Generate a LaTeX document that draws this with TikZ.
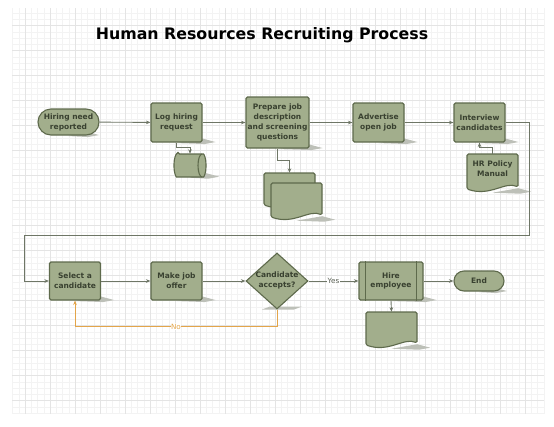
\documentclass[tikz,border=0pt]{standalone}
\usepackage{fontspec}
\setmainfont{DejaVu Sans}
\usetikzlibrary{shapes.geometric,shapes.misc,arrows.meta,calc}
\definecolor{fillc}{HTML}{A2AE8C}
\definecolor{bord}{HTML}{5E6A4C}
\definecolor{txtc}{HTML}{394130}
\definecolor{linec}{HTML}{6E7666}
\definecolor{noc}{HTML}{E3A54A}
\definecolor{shadc}{HTML}{BDC0B8}
\definecolor{gminor}{HTML}{F3F3F3}
\definecolor{gmajor}{HTML}{E4E4E4}
\pgfdeclarelayer{gridlayer}
\pgfdeclarelayer{shadlayer}
\pgfsetlayers{gridlayer,shadlayer,main}
\newcommand{\wdoc}[5]{%
  \pgfmathsetmacro\wdw{#4-#2}%
  \pgfmathsetmacro\wdh{#5-#3}%
  \filldraw[docsty] (#2,#5-3) -- (#2,#3) -- (#4,#3) -- (#4,#5-5)
     .. controls ({#4-0.25*\wdw},#5-11) and ({#2+0.45*\wdw},#5+5) .. (#2,#5-3) -- cycle;
  \node[inner sep=0pt, minimum width=\wdw pt, minimum height=\wdh pt] (#1) at ({(#2+#4)/2},{(#3+#5)/2}) {};
}
\newcommand{\shd}[1]{%
  \fill[shadc] ($(#1.south)+(0,0.5)$) -- ($(#1.south east)+(2,1.5)$) -- ($(#1.south east)+(13,-0.5)$) -- ($(#1.south east)+(0,-4)$) -- cycle;
}
\begin{document}
\begin{tikzpicture}[x=1pt,y=-1pt,
  lbl/.style={font=\fontsize{7.5}{9.9}\selectfont\bfseries, text=txtc, align=center},
  proc/.style={lbl, draw=bord, fill=fillc, line width=1.1pt, rounded corners=1.5pt, minimum width=51pt, minimum height=39pt, inner sep=1pt},
  term/.style={lbl, draw=bord, fill=fillc, line width=1.1pt, rounded rectangle, inner sep=1pt},
  dia/.style={diamond, draw=bord, fill=fillc, line width=1.1pt, minimum width=62pt, minimum height=56pt, inner sep=0pt},
  docsty/.style={draw=bord, fill=fillc, line width=1.1pt, rounded corners=1.5pt},
  conn/.style={draw=linec, line width=0.9pt, -{Stealth[length=4.5pt,width=3.6pt]}},
  noconn/.style={draw=noc, line width=1pt, -{Stealth[length=4.5pt,width=3.6pt]}},
  edgelbl/.style={fill=white, inner sep=0.6pt, font=\fontsize{7.2}{8}\selectfont}
]
\useasboundingbox (0,0) rectangle (554,426);
\begin{pgfonlayer}{gridlayer}
  \fill[white] (0,0) rectangle (554,426);
  \foreach \x in {12.5,18.75,...,543.8} \draw[gminor, line width=0.5pt] (\x,8) -- (\x,414);
  \foreach \y in {13.2,19.45,...,413.3} \draw[gminor, line width=0.5pt] (12,\y) -- (544,\y);
  \foreach \x in {25,50,...,525} \draw[gmajor, line width=0.6pt] (\x,8) -- (\x,414);
  \foreach \y in {25.7,50.7,...,400.7} \draw[gmajor, line width=0.6pt] (12,\y) -- (544,\y);
\end{pgfonlayer}

\node[anchor=base, font=\fontsize{15.8}{18}\selectfont\bfseries, text=black] (title) at (262,39) {Human Resources Recruiting Process};

% row 1
\node[term, minimum width=63pt, minimum height=26pt] (hir) at (68.5,122) {Hiring need\\reported};
\node[proc] (log) at (176.5,122.5) {Log hiring\\request};
\node[proc, minimum width=63pt, minimum height=51pt] (prep) at (277.5,122.5) {Prepare job\\description\\and screening\\questions};
\node[proc] (adv) at (378.5,122.5) {Advertise\\open job};
\node[proc] (intv) at (479.5,122.5) {Interview\\candidates};

% cylinder (storage)
\filldraw[docsty] (178,154) -- (202,154) .. controls (204.2,154) and (206,159.15) .. (206,165.5)
   .. controls (206,171.85) and (204.2,177) .. (202,177) -- (178,177)
   .. controls (175.8,177) and (174,171.85) .. (174,165.5)
   .. controls (174,159.15) and (175.8,154) .. (178,154) -- cycle;
\draw[bord, line width=1.1pt] (202,154) .. controls (199.8,154) and (198,159.15) .. (198,165.5)
   .. controls (198,171.85) and (199.8,177) .. (202,177);
\node[inner sep=0pt, minimum width=32pt, minimum height=23pt] (cyl) at (190,165.5) {};

% documents
\wdoc{mdocb}{264}{173}{315}{208}
\wdoc{mdocf}{271}{183}{322}{220}
\wdoc{hrdoc}{467}{154}{518}{192}
\node[lbl] (hrtxt) at (492.5,169) {HR Policy\\Manual};

% row 2
\node[proc, minimum height=38pt] (sel) at (75,281) {Select a\\candidate};
\node[proc, minimum height=38pt] (offer) at (176.5,281) {Make job\\offer};
\node[dia] (acc) at (277,281) {};
\node[lbl] (acctxt) at (277,280) {Candidate\\accepts?};
\node[proc, minimum width=64pt, minimum height=38pt] (hire) at (391,281) {Hire\\employee};
\draw[bord, line width=1.1pt] ($(hire.north west)+(7,0)$) -- ($(hire.south west)+(7,0)$);
\draw[bord, line width=1.1pt] ($(hire.north east)+(-7,0)$) -- ($(hire.south east)+(-7,0)$);
\node[term, minimum width=52pt, minimum height=20pt] (endn) at (479,281) {End};
\wdoc{hdoc}{366}{312}{417}{348}

% shadows
\begin{pgfonlayer}{shadlayer}
  \foreach \n in {hir,log,prep,adv,intv,sel,offer,hire,endn,cyl,mdocf,hrdoc,hdoc} {\shd{\n}}
  \fill[shadc] (262,309.5) -- (294,309.5) -- (302,306.5) -- (270,306.5) -- cycle;
\end{pgfonlayer}

% connectors
\coordinate (rt) at (529,235);
\coordinate (lt) at (24,235);
\draw[conn] (hir) -- (log);
\draw[conn] (log) -- (prep);
\draw[conn] (prep) -- (adv);
\draw[conn] (adv) -- (intv);
\draw[conn] (log.south) -- ++(0,5) -| (cyl.north);
\draw[conn] (prep.south) -- ++(0,12) -| (mdocb.north);
\draw[conn] (hrdoc.north) -- ++(0,-6) -| (intv.south);
\draw[conn] (intv.east) -| (rt) -- (lt) |- (sel.west);
\draw[conn] (sel) -- (offer);
\draw[conn] (offer) -- (acc);
\draw[conn] (acc) -- node[edgelbl, text=linec!80!black] {Yes} (hire);
\draw[conn] (hire) -- (endn);
\draw[conn] (hire.south) -- (hdoc.north);
\draw[noconn] (acc.south) -- ++(0,17) -| node[pos=0.25, edgelbl, text=noc] {No} (sel.south);
\end{tikzpicture}
\end{document}
